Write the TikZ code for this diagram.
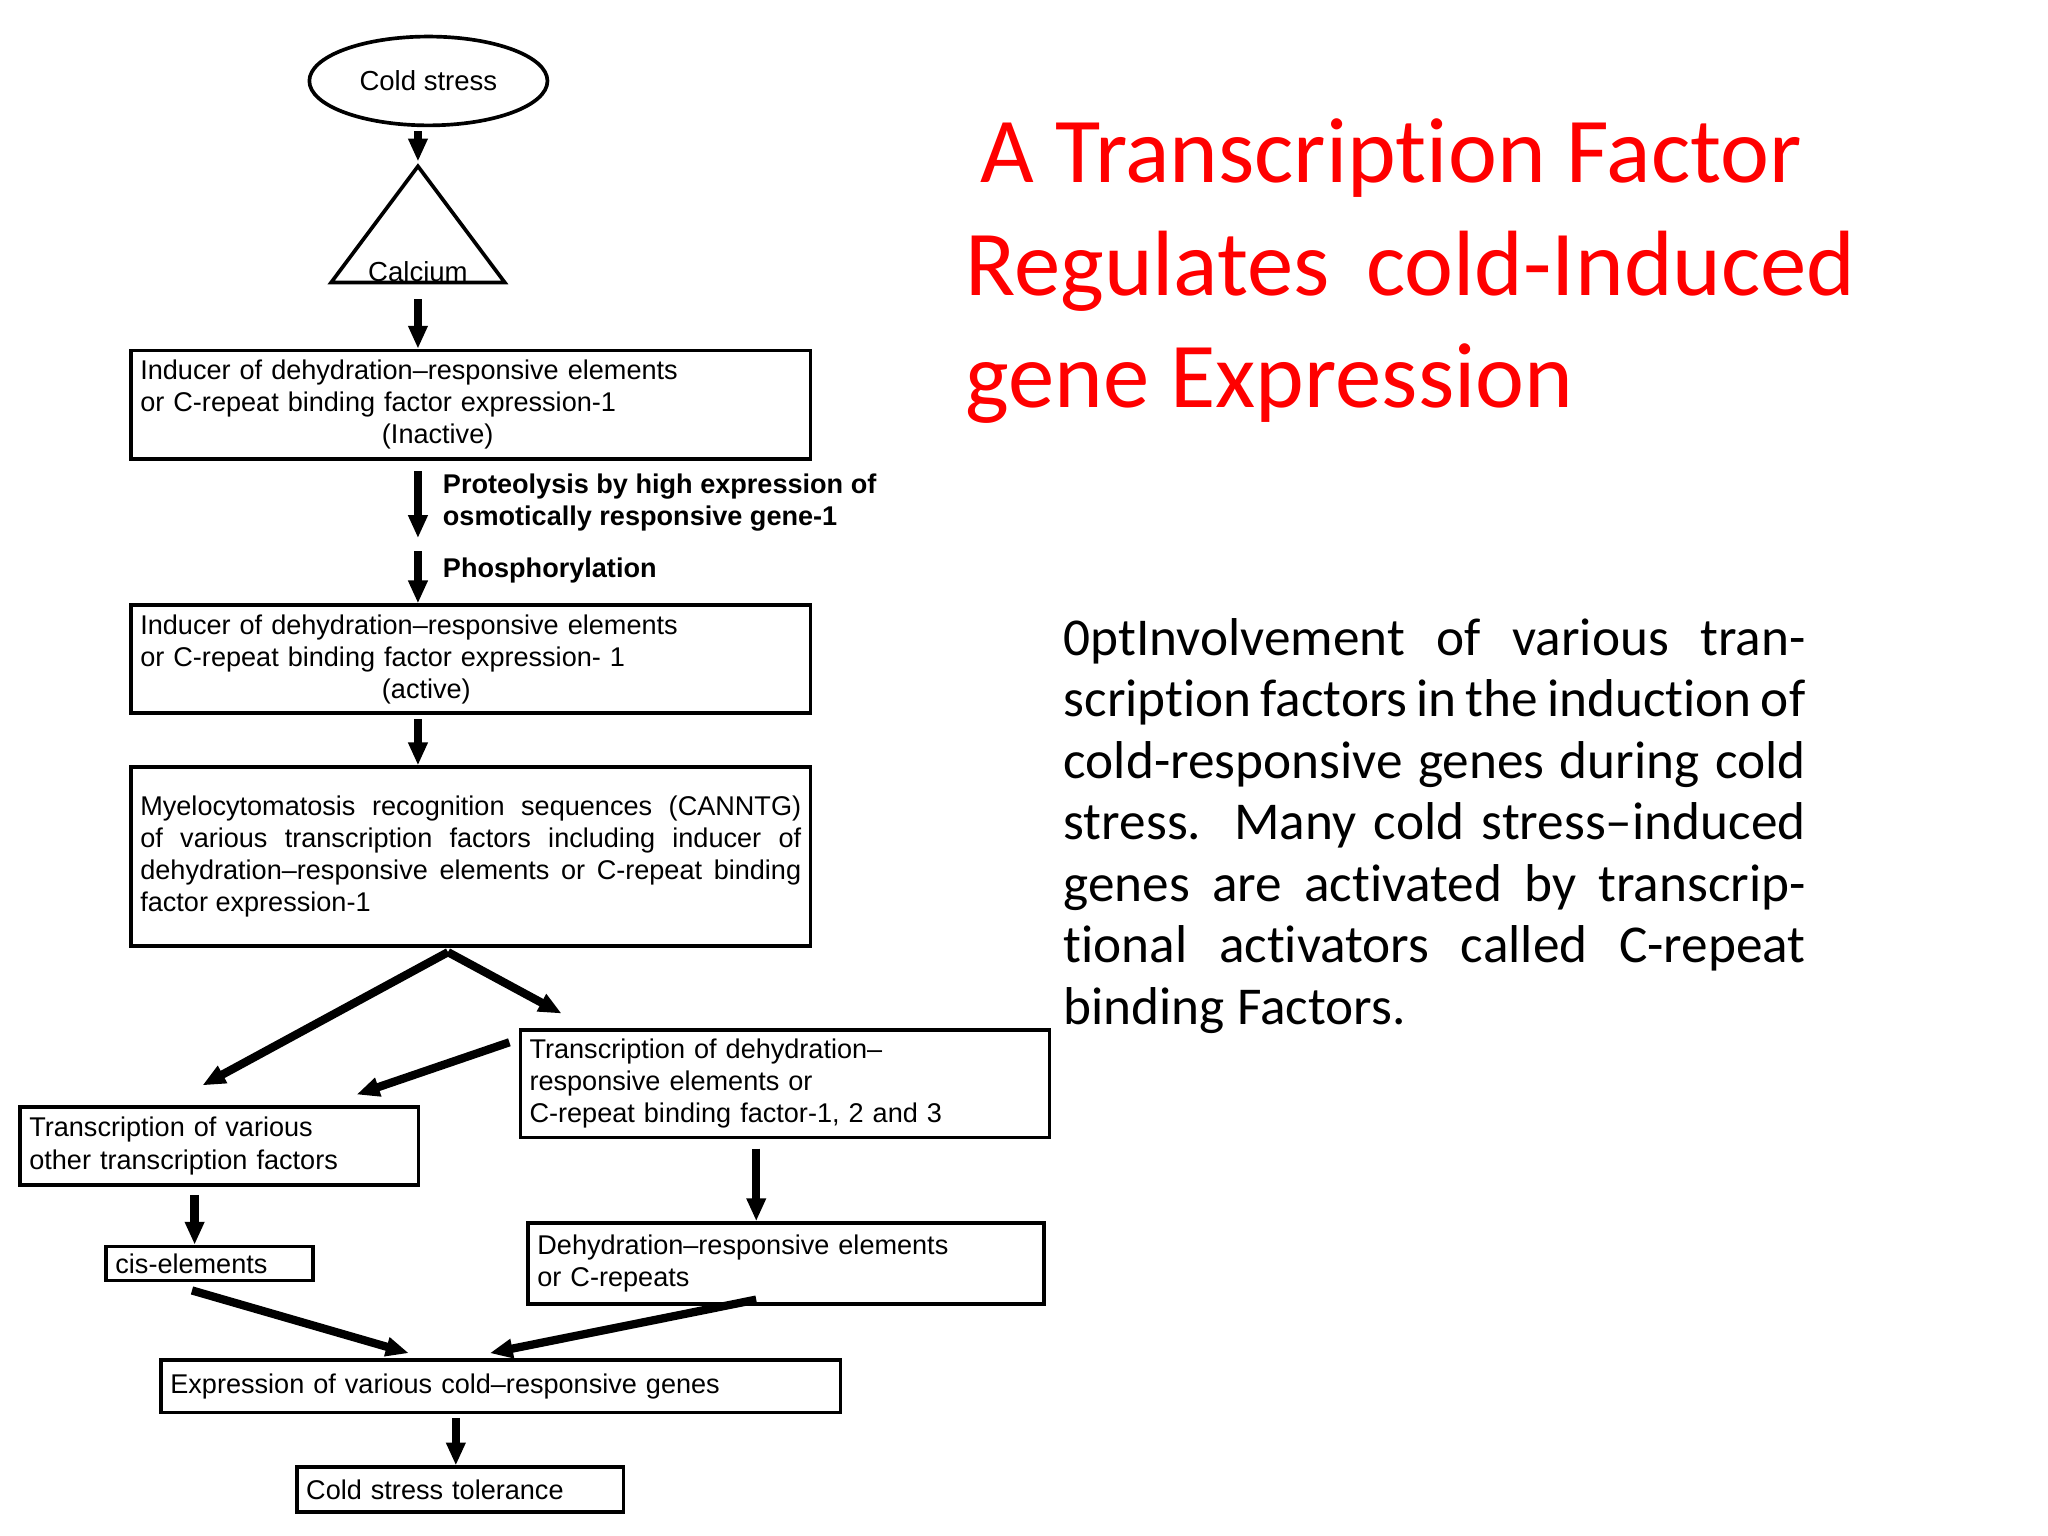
\documentclass[tikz,border=0pt]{standalone}
\usepackage{fontspec}
\setmainfont{Liberation Sans}
\newfontfamily\calib[Ligatures={NoCommon,NoRare}]{Carlito}
\usetikzlibrary{shapes.geometric,arrows.meta}
\begin{document}
\begin{tikzpicture}[thick,
  box/.style={draw,line width=0.8pt,rectangle,inner sep=2pt,anchor=north west,font=\fontsize{5.9}{7}\selectfont,align=left},
  arr/.style={-{Triangle[length=5pt,width=4pt]},line width=1.8pt},
  lbl/.style={font=\fontsize{5.9}{7}\selectfont\bfseries,align=left,anchor=west}]
\useasboundingbox (0,0) rectangle (15.68,-11.76);
% flow chart
\node[ellipse,draw,line width=0.8pt,minimum width=1.74cm,minimum height=0.68cm,font=\fontsize{6}{7}\selectfont] (cold) at (3.28,-0.62) {Cold stress};
\node[isosceles triangle,shape border rotate=90,draw,line width=0.8pt,minimum width=1.33cm,minimum height=0.89cm,isosceles triangle stretches,inner sep=0pt] (calc) at (3.20,-1.83) {};
\node[font=\fontsize{6}{7}\selectfont] (calcT) at (3.20,-2.08) {Calcium};
\node[box,text width=5.06cm,minimum height=0.83cm] (ice1) at (0.99,-2.67) {Inducer of dehydration--responsive elements\\or C-repeat binding factor expression-1\\\hspace*{1.85cm}(Inactive)};
\node[box,text width=5.06cm,minimum height=0.81cm] (ice2) at (0.99,-4.62) {Inducer of dehydration--responsive elements\\or C-repeat binding factor expression- 1\\\hspace*{1.85cm}(active)};
\node[box,text width=5.06cm,minimum height=1.37cm,align=justify] (myc) at (0.99,-5.86) {Myelocytomatosis recognition sequences (CANNTG) of various transcription factors including inducer of dehydration--responsive elements or C-repeat binding factor expression-1};
\node[box,text width=3.91cm,minimum height=0.82cm] (cbf) at (3.97,-7.87) {Transcription of dehydration--\\responsive elements or\\C-repeat binding factor-1, 2 and 3};
\node[box,text width=2.91cm,minimum height=0.60cm] (other) at (0.14,-8.46) {Transcription of various\\other transcription factors};
\node[box,text width=1.51cm,minimum height=0.26cm,inner sep=1pt] (cis) at (0.80,-9.53) {\,cis-elements};
\node[box,text width=3.81cm,minimum height=0.62cm] (dre) at (4.03,-9.35) {Dehydration--responsive elements\\or C-repeats};
\node[box,text width=5.06cm,minimum height=0.40cm] (expr) at (1.22,-10.40) {Expression of various cold--responsive genes};
\node[box,text width=2.36cm,minimum height=0.34cm] (tol) at (2.26,-11.22) {Cold stress tolerance};
\coordinate (split) at (3.43,-7.29);
\coordinate (lA) at (1.55,-8.31);
\coordinate (rA) at (4.30,-7.76);
\coordinate (cA) at (3.90,-7.98);
\coordinate (cB) at (2.73,-8.38);
\coordinate (jL) at (1.47,-9.88);
\coordinate (jR) at (5.79,-9.95);
\coordinate (eL) at (3.13,-10.36);
\coordinate (eR) at (3.75,-10.36);
\coordinate (p1) at (3.20,-4.22);
% connectors
\draw[arr] (cold.south -| calc.apex) ++(0,-0.03) -- (calc.apex);
\draw[arr] (3.20,-2.29) -- (ice1.north -| 3.20,0);
\draw[arr] (ice1.south -| 3.20,0) ++(0,-0.08) -- (3.20,-4.12);
\draw[arr] (p1) -- (ice2.north -| p1);
\draw[arr] (ice2.south -| p1) ++(0,-0.03) -- (myc.north -| p1);
\draw[arr] (split) -- (lA);
\draw[arr] (split) -- (rA);
\draw[arr] (cA) -- (cB);
\draw[arr] (other.south -| 1.49,0) ++(0,-0.06) -- (cis.north -| 1.49,0);
\draw[arr] (cbf.south -| 5.79,0) ++(0,-0.07) -- (dre.north -| 5.79,0);
\draw[arr] (jL) -- (eL);
\draw[arr] (jR) -- (eR);
\draw[arr] (expr.south -| 3.49,0) ++(0,-0.03) -- (tol.north -| 3.49,0);
\node[lbl] (prot) at (3.26,-3.85) {Proteolysis by high expression of\\osmotically responsive gene-1};
\node[lbl] (phos) at (3.26,-4.37) {Phosphorylation};
% title and text
\node[text=red,font=\calib\fontsize{20.2}{24.5}\selectfont,align=left,anchor=north west] (title) at (7.26,-0.78) {\,A Transcription Factor\\Regulates\, cold-Induced\\gene Expression};
\node[font=\calib\fontsize{11.6}{13.4}\selectfont\hyphenpenalty=10000\exhyphenpenalty=10000,text width=5.68cm,align=justify,anchor=north west,inner sep=0pt] (body) at (8.13,-4.72) {Involvement of various transcription factors in the induction of cold-responsive genes during cold stress. Many cold stress–induced genes are activated by transcriptional activators called C-repeat binding Factors.};
\end{tikzpicture}
\end{document}
